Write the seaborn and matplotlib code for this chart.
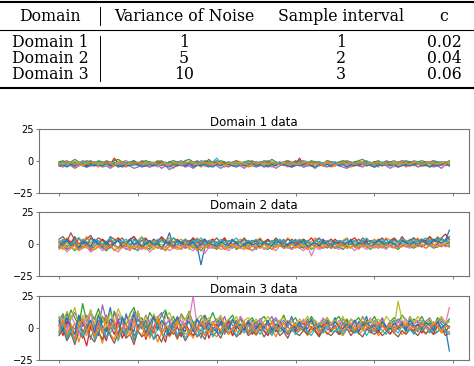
import numpy as np
import pandas as pd
import seaborn as sns
import matplotlib
matplotlib.use("Agg")
import matplotlib.pyplot as plt
from matplotlib.lines import Line2D

# table content
table_header = ["Domain", "Variance of Noise", "Sample interval", "c"]
domain_names = ["Domain 1", "Domain 2", "Domain 3"]
noise_variance = ["1", "5", "10"]
sample_interval = ["1", "2", "3"]
c_values = ["0.02", "0.04", "0.06"]

# traces (12 per domain, 100 steps each)
d1_lines = [
    [-2,-3,-1,-2,-4,-1,-3,-2,0,-2,-3,-1,-2,-4,-2,-1,-3,-2,-2,0,-3,-2,-4,-1,-2,-3,-1,-2,-3,-2,
     -1,-4,-2,-2,-3,0,-2,-1,-3,-2,-2,-4,-1,-3,-2,-1,-2,-4,-2,-3,-1,-2,-3,-1,-4,-2,-2,-1,-3,-2,
     0,-2,-3,-2,-1,-3,-4,-2,-1,-2,-3,-2,-1,-3,-2,-2,-4,-1,-2,-3,-2,-1,-3,-2,-4,-2,-1,-2,-3,-1,
     -2,-3,-2,-1,-2,-4,-2,-3,-1,-2],
    [-3,-4,-2,-3,-5,-3,-2,-4,-3,-3,-5,-2,-3,-4,-3,-2,-4,-5,-3,-2,-4,-3,-3,-5,-2,-4,-3,-2,-3,-6,
     -3,-4,-2,-3,-4,-3,-5,-2,-3,-4,-2,-3,-5,-3,-4,-2,-3,-3,-5,-4,-3,-2,-4,-3,-5,-3,-2,-4,-3,-4,
     -2,-3,-5,-4,-3,-2,-4,-3,-3,-5,-4,-2,-3,-3,-5,-4,-2,-3,-4,-3,-3,-5,-2,-4,-3,-3,-4,-2,-5,-3,
     -4,-3,-2,-3,-5,-4,-3,-2,-4,-3],
    [-1,0,-2,-1,1,-1,-2,0,-1,-2,0,-1,-1,-3,0,1,-1,-2,-1,0,-2,-1,0,-1,-2,0,-1,-3,-1,0,
     -1,-2,0,1,-1,-1,-2,0,-1,-1,-2,0,-1,-2,-1,0,-3,-1,0,-1,-1,-2,0,-1,1,-1,-2,-1,0,-2,
     -1,0,-1,-2,0,-1,-1,-3,0,-1,-2,-1,0,-1,-2,-1,0,1,-1,-2,-1,0,-2,-1,-1,0,-2,-1,0,-1,
     -2,-1,0,-1,-2,0,-1,-1,-2,0],
    [-3,-2,-4,-3,-1,-3,-2,-4,-2,-3,-1,-3,-2,-3,2,-2,-4,-3,-2,-3,-2,-4,-1,-3,-3,-2,-4,-2,-1,-3,
     -3,-2,-4,-3,-2,-1,-3,-4,-2,-3,-3,-1,-2,-4,-3,-2,-3,-2,-4,-1,-3,-2,-3,-4,-2,-3,-1,-3,-2,-4,
     -3,2,-3,-2,-4,-3,-1,-3,-2,-3,-4,-2,-3,-1,-3,-2,-4,-3,-2,-3,-1,-3,-4,-2,-3,-2,-3,-1,-4,-2,
     -3,-3,-2,-4,-1,-3,-2,-3,-2,-3],
    [-4,-5,-3,-4,-6,-4,-3,-5,-4,-4,-3,-5,-4,-6,-4,-3,-5,-4,-4,-6,-5,-3,-4,-5,-4,-3,-6,-4,-7,-5,
     -4,-3,-5,-4,-6,-4,-3,-4,-5,-3,-4,-6,-4,-5,-3,-4,-4,-6,-3,-4,-5,-4,-3,-5,-4,-6,-4,-3,-4,-5,
     -4,-3,-5,-4,-4,-6,-3,-4,-5,-4,-3,-4,-5,-6,-4,-3,-4,-5,-3,-4,-5,-4,-3,-4,-6,-4,-5,-3,-4,-4,
     -3,-5,-4,-4,-3,-5,-4,-6,-3,-4],
    [-1,-2,-3,-1,-2,-2,-1,-3,-2,-1,-3,-2,-1,-2,-2,-4,-1,-2,-3,-1,-2,-1,-3,-2,-2,-1,-2,-3,-1,-2,
     -2,-3,-1,-2,-1,-2,-3,-2,1,-2,-1,-3,-2,-1,-2,-3,-2,-1,-2,-2,-3,-1,-2,-2,-1,-3,-2,-2,-1,-3,
     -2,-1,-2,-3,-2,-1,-2,-2,-3,-1,-2,-2,-1,-3,-2,-1,-2,-3,-2,-2,-1,-2,-3,-1,-2,-2,-3,-1,-2,-1,
     -2,-3,-2,-1,-2,-2,-1,-3,-2,-2],
    [-2,-3,-4,-3,-2,-4,-3,-2,-3,-4,-3,-2,-3,-5,-3,-2,-3,-4,-2,-3,-4,-3,-2,-3,-3,-5,-2,-3,-4,-3,
     -2,-4,-3,-3,-2,-3,-4,-3,-2,-4,-3,-3,-2,-4,-3,-2,-3,-4,-3,-2,-3,-4,-2,-3,-3,-4,-2,-3,-5,-3,
     -2,-3,-4,-3,-2,-3,-3,-4,-2,-3,-4,-3,-2,-3,-4,-2,-3,-3,-4,-2,-3,-4,-3,-2,-3,-5,-3,-2,-3,-4,
     -3,-2,-4,-3,-3,-2,-3,-4,-2,-3],
    [-2,-1,0,-2,-1,-2,0,-1,-3,-1,-1,-2,0,-1,-2,-1,-1,0,-2,-1,-2,0,-1,-1,-3,-1,0,-2,-1,-2,
     -1,0,-2,-1,-1,-2,0,-1,-2,-1,0,-1,-2,-1,-2,0,-1,-2,-1,0,-2,-1,-1,0,-2,-1,-3,-1,0,-1,
     -2,-1,0,-1,-2,-1,-1,-2,0,-1,-1,-2,-1,0,-1,-2,-1,-1,0,-2,-1,-1,-2,0,-1,-2,-1,0,-1,-2,
     0,-1,-2,-1,-1,0,-2,-1,-1,-2],
    [-3,-2,-2,-4,-3,-1,-3,-2,-4,-2,-2,-3,-4,-2,-3,-1,-2,-3,-3,-4,-2,-3,-1,-3,-2,-4,-3,-2,-3,-2,
     -4,-2,-3,-2,-1,-3,-3,-4,-2,-2,-3,-2,-4,-3,-2,-3,-1,-2,-3,-4,-2,-3,-3,-2,-4,-2,-3,-1,-3,-2,
     -3,-4,-2,-3,-2,-3,-4,-2,-1,-3,-2,-3,-3,-4,-2,-3,-2,-1,-3,-3,-4,-2,-3,-2,-3,-1,-3,-4,-2,-3,
     -2,-3,-4,-2,-3,-2,-3,-1,-3,-2],
    [-2,-1,-3,-2,-2,-3,-1,-2,-4,-2,-1,-2,-3,-2,-1,-3,-2,-2,-1,-3,-2,-3,-2,-1,-2,-4,-2,-1,-3,-2,
     -2,-1,-3,-2,-2,-1,-3,-2,-2,-1,2,-2,-3,-1,-2,-2,-3,-1,-2,-3,-2,-1,-2,-3,-2,-2,-1,-3,-2,-2,
     -3,-1,-2,-2,-3,-2,-1,-2,-3,-2,-1,-3,-2,-2,-1,-2,-3,-2,-2,-1,-3,-2,-1,-2,-3,-2,-2,-1,-3,-2,
     -2,-1,-3,-2,-2,-3,-1,-2,-2,-3],
    [-4,-3,-5,-3,-4,-2,-4,-5,-3,-4,-3,-4,-2,-4,-3,-5,-4,-3,-4,-2,-3,-5,-4,-3,-4,-3,-2,-4,-5,-3,
     -4,-3,-4,-2,-5,-3,-4,-3,-4,-5,-3,-4,-2,-3,-4,-5,-3,-4,-3,-2,-4,-3,-5,-4,-3,-4,-2,-3,-4,-5,
     -3,-4,-3,-2,-4,-5,-3,-4,-3,-4,-2,-4,-3,-5,-3,-4,-3,-2,-4,-3,-5,-3,-4,-2,-4,-3,-5,-4,-3,-4,
     -3,-2,-4,-3,-5,-3,-4,-3,-2,-4],
    [-2,-3,-2,-1,-3,-2,-4,-2,-1,-2,-3,-1,-2,-2,-4,-2,-1,-3,-2,-2,-1,-2,-3,-2,-1,-3,-2,-2,-4,-1,
     -2,-3,-2,-1,-2,-3,-1,-2,-2,-3,-2,-1,-3,-2,-2,-1,-3,-2,-4,-2,-1,-2,-2,-3,-1,-2,-3,-2,-2,-1,
     -3,-2,-1,-2,-3,-2,-2,-4,-1,-2,-3,-2,-1,-2,-2,-3,-1,-2,-3,-2,-2,-1,-3,-2,-2,-3,-1,-2,-2,-3,
     -1,-2,-3,-2,-1,-2,-3,-2,-2,-1],
]

d2_lines = [
    [-1,3,-2,1,4,-3,0,2,-4,1,3,-2,0,5,-1,-3,2,0,-2,4,1,-3,2,-1,0,3,-4,1,9,-2,
     0,2,-3,1,4,-1,-16,-2,1,3,-2,0,4,-1,-3,2,1,-2,3,0,-4,1,2,-1,3,-2,0,4,-3,1,
     2,-1,-3,3,0,-2,2,4,-1,0,-3,2,1,-2,4,0,-1,3,-2,1,0,-3,2,4,-1,1,-2,3,0,-1,
     2,4,-2,1,3,-1,0,5,2,1],
    [3,1,5,2,0,4,2,6,1,3,0,4,2,-1,3,5,1,2,4,0,3,6,2,1,4,0,3,2,5,1,
     2,4,0,3,1,5,2,-1,3,4,1,2,5,0,3,2,4,1,-1,3,2,5,1,3,0,4,2,1,5,2,
     0,3,4,1,2,5,0,3,1,4,2,0,3,5,1,2,4,0,3,2,4,1,2,5,3,0,2,4,1,3,
     2,5,1,3,4,2,6,3,2,4],
    [-3,-1,-4,-2,-5,-1,-3,0,-4,-2,-1,-3,-5,-2,0,-3,-1,-4,-2,-3,-5,-1,-2,-4,0,-3,-2,-5,-1,-3,
     -2,-4,-1,0,-3,-2,-5,-1,-3,-2,-4,-1,-2,-3,0,-4,-2,-1,-3,-5,-2,-1,-3,-4,-1,-2,0,-3,-2,-4,
     -1,-3,-2,0,-4,-2,-1,-3,-2,-1,-3,-2,-4,-1,0,-2,-3,-1,-2,-4,-1,-2,0,-3,-1,-2,-4,-1,0,-2,
     -3,-1,-2,0,-1,-3,-2,0,-1,-2],
    [2,-1,4,1,6,0,3,-2,5,2,0,4,1,3,-1,5,2,0,3,6,1,-1,4,2,0,3,5,1,2,-2,
     4,1,3,0,5,2,-1,3,1,4,0,2,5,-1,3,1,2,4,0,1,3,-1,2,4,1,0,3,2,-1,4,
     1,3,0,2,5,1,-1,3,2,0,4,1,2,-1,3,5,1,0,4,2,1,3,5,0,2,4,1,6,2,3,
     5,1,4,2,6,3,1,5,8,4],
    [-2,0,-4,-1,1,-3,-2,0,-5,-1,1,-2,-4,0,-1,-3,1,-2,0,-4,-1,-3,1,-2,-1,0,-4,-2,1,-3,
     0,-1,-3,-2,1,-5,-1,0,-2,-3,1,-1,-4,0,-2,-1,-3,1,-2,0,-3,-1,0,-2,-4,1,-1,-2,0,-3,
     -1,1,-2,-3,0,-1,-2,1,-3,-1,0,-2,1,-1,-3,0,-2,-1,1,-2,-1,0,-3,1,-1,-2,0,1,-2,0,
     -1,1,-2,0,2,-1,0,-2,1,0],
    [4,6,2,9,3,5,1,4,7,2,5,3,0,6,4,2,5,1,4,6,2,3,5,0,4,2,6,3,1,5,
     3,0,4,2,5,1,3,4,0,2,5,1,3,2,4,0,2,5,1,3,2,4,0,3,1,5,2,0,4,2,
     3,1,4,2,0,3,5,1,2,4,0,3,2,4,1,3,0,5,2,3,1,4,2,0,3,5,2,4,1,3,
     5,2,4,3,6,2,5,4,3,6],
    [-4,-2,-6,-3,-1,-5,-3,-2,-6,-4,-2,-5,-3,-1,-4,-6,-2,-3,-5,-1,-3,-4,-2,-6,-3,-1,-4,-2,-5,-3,
     -2,-4,-1,-3,-5,-2,-4,-7,-2,-3,-1,-4,-3,-5,-2,-1,-3,-4,-2,-5,-3,-1,-4,-2,-3,-5,-1,-3,-2,-4,
     -2,-3,-5,-1,-9,-2,-4,-3,-1,-3,-2,-4,-1,-3,-2,-5,-1,-2,-4,-2,-1,-3,-2,-4,0,-2,-3,-1,-2,-3,
     -1,-2,0,-3,-1,-2,-1,0,-2,-1],
    [1,-1,3,0,2,-2,4,1,-1,3,2,0,-2,3,1,4,-1,2,0,1,-1,3,1,-2,2,0,4,1,-1,2,
     3,0,1,-1,2,4,0,1,3,-1,2,1,-2,3,0,2,1,4,-1,2,0,3,1,-1,2,0,3,1,-2,2,
     4,0,1,2,-1,3,1,0,2,-1,1,3,0,2,1,-1,4,2,0,1,3,-1,2,1,0,3,2,-1,1,4,
     0,2,3,1,-1,2,4,1,3,2],
    [0,-3,1,-2,-4,0,-1,-3,2,-2,-1,1,-3,-2,0,-4,-1,2,-2,-1,-3,0,-2,1,-4,-1,0,-3,-2,1,
     -1,-2,0,-4,-1,1,-3,-2,0,-1,-2,1,-3,0,-1,-2,1,-4,0,-2,-1,0,-3,-1,1,-2,0,-1,-3,0,
     -2,1,-1,0,-3,-2,1,-1,0,-2,1,-1,-2,0,-3,1,-1,0,-2,1,0,-2,1,-1,0,2,-1,0,1,-1,
     0,2,-1,1,0,-1,2,0,1,3],
    [1,4,2,0,3,5,2,1,4,2,3,0,2,5,1,3,2,4,0,3,2,5,1,3,0,4,2,1,3,5,
     1,2,4,0,3,2,5,1,2,3,0,4,1,3,2,5,1,0,3,2,4,1,2,0,3,1,4,2,0,3,
     2,4,1,3,0,2,4,1,3,2,0,3,2,4,1,3,0,2,5,1,3,2,4,1,3,0,2,4,3,1,
     4,2,3,5,2,4,3,5,2,4],
    [-2,1,3,-1,0,-3,2,1,-2,4,0,-1,2,-3,1,3,-2,0,4,-1,2,-2,0,3,-1,1,-3,2,0,-2,
     3,1,-1,0,2,-3,1,4,-1,0,-2,2,0,-1,3,1,-2,0,2,-1,1,-3,2,0,-1,3,1,-2,0,2,
     -1,1,3,-2,0,1,-1,2,0,-3,2,0,-1,1,3,-2,1,0,2,-1,0,3,1,-1,2,0,-2,3,1,0,
     2,-1,3,1,0,4,2,1,3,11],
    [-1,-4,-2,-3,0,-5,-2,-1,-3,-4,-2,0,-3,-1,-5,-2,-3,0,-4,-1,-3,-2,-4,0,-1,-3,-2,-5,-1,-2,
     -4,-3,0,-2,-1,-4,-2,-3,0,-2,-3,-1,-4,-2,0,-3,-1,-2,-4,-1,-2,-3,0,-1,-4,-2,-1,-3,-2,0,
     -3,-1,-2,-4,-1,0,-3,-2,-1,-3,-2,0,-1,-3,-2,-1,-4,0,-2,-1,-3,-1,-2,0,-2,-3,-1,-2,0,-1,
     -2,0,-1,-3,-1,0,-2,-1,0,-1],
]

d3_lines = [
    [8,-3,12,2,-5,10,4,-2,14,1,-6,9,3,16,-1,7,-4,11,2,-3,13,0,6,-5,9,3,-2,12,5,-4,
     8,1,-3,11,4,-1,7,10,-2,5,1,8,-3,6,2,-1,9,3,-4,6,0,7,2,-3,5,8,-1,4,1,9,
     -2,5,3,-1,7,0,4,-3,6,2,8,-1,3,6,0,-3,5,2,9,-1,4,1,7,-2,3,6,0,5,-1,8,
     2,-3,6,1,4,-1,7,3,0,-18],
    [-5,2,-9,-3,4,-11,-1,-6,3,-8,-2,-12,0,-5,-9,2,-4,-7,1,-10,-3,-6,2,-8,-1,-11,-4,0,-7,-2,
     -9,1,-5,-3,-8,0,-2,-6,3,-4,-7,-1,-3,2,-6,-2,-5,0,-4,-1,-6,1,-3,-5,-1,-7,0,-2,-4,1,
     -5,-2,0,-6,-3,1,-4,-1,-5,-2,0,-4,-6,-1,-3,2,-5,-2,0,-4,-1,-6,-3,1,-4,-2,0,-5,-3,-1,
     -4,0,-2,-5,-1,-3,1,-4,-2,-3],
    [6,11,3,14,8,2,19,5,12,7,15,4,10,1,13,6,9,2,11,16,5,8,0,12,7,3,10,14,4,9,
     2,11,6,13,3,7,1,9,5,12,4,8,0,6,10,3,7,1,5,8,2,6,9,3,0,7,4,10,2,5,
     8,1,6,3,9,4,0,7,5,2,6,9,3,7,1,5,8,2,6,4,9,3,7,0,5,8,4,10,6,2,
     7,4,9,3,6,1,8,5,3,7],
    [2,-6,5,-2,-9,3,-4,-14,1,-7,4,-3,-10,2,-5,6,-8,-1,3,-6,-2,5,-9,0,-4,7,-3,-11,2,-5,
     1,-7,4,-2,-6,0,-3,5,-8,-1,3,-4,-1,5,-6,2,-3,0,4,-5,-1,3,-2,-6,1,-3,4,-1,-5,2,
     -3,0,5,-4,1,-2,-6,3,0,-3,2,-5,0,4,-2,-4,1,-1,5,-3,0,-4,3,-2,-5,1,-1,4,-3,0,
     -2,3,-4,1,-1,-5,2,0,-3,1],
    [3,9,0,7,12,5,1,10,4,8,-1,18,6,2,11,5,-2,9,3,13,7,1,10,4,-1,8,12,3,6,0,
     9,5,2,11,-1,6,3,8,0,4,7,2,9,-1,5,3,8,1,6,-2,4,7,1,5,9,0,3,6,2,8,
     1,5,-1,7,3,6,0,4,8,2,5,1,7,3,-1,6,2,9,4,1,6,3,8,0,5,2,7,4,1,9,
     3,6,0,5,8,2,4,7,3,5],
    [-6,-1,-10,-4,-13,-2,-8,0,-7,-11,-3,-9,1,-6,-12,-4,-1,-8,-5,-13,-2,-7,-4,0,-9,-5,-11,-2,-6,-1,
     -8,-3,-10,-5,-1,-7,-4,-9,0,-6,-3,-8,-1,-5,-2,-7,-4,0,-6,-3,-5,-1,-7,-2,-4,0,-6,-3,-8,-1,
     -4,-6,-2,-5,0,-3,-7,-1,-4,-6,-2,-5,-3,0,-6,-2,-4,-7,-1,-3,-5,-2,-6,-3,0,-4,-7,-2,-5,-1,
     -3,-6,-1,-4,-2,-5,-3,0,-6,-4],
    [1,7,-3,10,3,-6,8,2,12,-2,5,-4,9,1,-1,11,4,-5,7,0,13,2,-3,6,9,-2,4,1,8,-4,
     3,10,0,6,25,2,-3,7,1,5,-2,8,3,-1,6,0,9,4,-3,5,2,7,-1,4,0,8,3,-2,6,1,
     4,-1,7,2,5,0,3,8,-2,4,1,6,3,-1,7,2,0,5,3,8,-1,4,6,1,3,-2,5,2,7,0,
     3,6,1,4,-1,5,2,8,3,16],
    [-3,5,-7,2,-1,8,-4,3,-9,1,6,-2,-8,4,0,-5,7,-3,2,-10,3,-1,5,-6,1,8,-4,0,-2,6,
     -7,3,1,-4,5,-1,-8,2,6,-3,0,4,-5,2,-2,6,-1,3,-4,1,5,-2,0,3,-4,2,6,-1,1,-3,
     4,0,-2,5,-1,3,-3,1,6,-2,2,-4,4,0,3,-1,-3,5,1,-2,3,0,5,-2,2,-4,1,4,-1,3,
     0,-2,4,1,-3,2,5,-1,2,0],
    [9,4,13,7,16,2,10,6,14,3,11,8,1,12,5,15,7,3,10,6,13,4,9,0,11,6,2,8,12,5,
     3,9,6,12,1,7,10,4,8,2,6,10,3,7,4,9,1,6,8,3,7,2,5,9,4,1,6,8,3,5,
     2,7,4,9,3,6,1,5,8,4,6,3,9,2,7,5,1,8,4,6,3,7,2,9,5,1,21,6,3,8,
     4,9,5,2,7,3,6,9,4,5],
    [-4,3,-8,-1,-11,2,-6,-3,5,-9,-2,1,-7,-4,3,-10,-1,-5,2,-8,-3,4,-6,-1,-9,1,-4,-7,3,-2,
     -5,0,-8,-3,2,-6,-1,-4,1,-7,-2,-5,1,-3,-1,-6,0,-4,2,-3,-1,-5,0,-2,-6,1,-3,-1,-4,0,
     -5,-2,1,-3,-6,0,-1,-4,2,-2,-3,0,-5,-1,2,-4,-2,0,-6,-1,-3,1,-2,-5,0,-1,-4,2,-3,-1,
     -5,0,-2,1,-4,-1,-3,0,-2,-5],
    [5,-2,8,0,-5,9,3,-1,6,-4,10,1,-3,7,4,-6,8,2,-2,11,0,5,-4,3,9,-1,6,2,-5,4,
     8,-2,1,5,-3,7,2,-1,4,0,-3,5,2,-1,7,0,3,-2,5,1,-1,4,0,6,-2,3,1,-3,5,2,
     0,4,-2,3,6,-1,2,0,4,-2,5,1,-1,3,0,6,-3,2,4,0,2,-2,5,1,-1,4,0,3,-2,6,
     1,3,-1,4,2,-2,5,0,3,1],
    [-1,6,-5,3,-9,1,7,-3,4,-7,2,-4,8,-1,5,-8,0,3,-6,6,-2,4,-7,1,-3,9,-5,2,0,-4,
     6,-1,3,-6,2,-3,5,0,-4,3,1,-2,4,-5,0,3,-1,5,-3,2,-4,1,3,-2,5,-1,0,4,-3,1,
     3,-2,0,4,-1,2,-4,1,3,-1,0,3,-3,1,4,-2,2,-1,3,0,-2,4,1,-1,3,-3,2,0,4,-1,
     1,-2,3,0,-1,4,1,-3,2,0],
]

domains = [("Domain 1 data", d1_lines), ("Domain 2 data", d2_lines), ("Domain 3 data", d3_lines)]

W, H = 474, 366
fig = plt.figure(figsize=(W / 100, H / 100), dpi=100)

def fx(x):
    return x / W

def fy(y):
    return 1 - y / H

# ---- table ----
serif = "DejaVu Serif"
tsize = 11.3
col_x = [50, 184, 341, 444]
for cx, txt in zip(col_x, table_header):
    fig.text(fx(cx), fy(16.5), txt, ha="center", va="center", family=serif, fontsize=tsize)
rows = list(zip(domain_names, noise_variance, sample_interval, c_values))
row_y = [42.5, 58.5, 74.5]
for ry, row in zip(row_y, rows):
    for cx, txt in zip(col_x, row):
        fig.text(fx(cx), fy(ry), txt, ha="center", va="center", family=serif, fontsize=tsize)

fig.add_artist(Line2D([0, 1], [fy(1.5), fy(1.5)], color="black", lw=1.5, transform=fig.transFigure))
fig.add_artist(Line2D([0, 1], [fy(30), fy(30)], color="black", lw=0.8, transform=fig.transFigure))
fig.add_artist(Line2D([0, 1], [fy(87.5), fy(87.5)], color="black", lw=1.5, transform=fig.transFigure))
fig.add_artist(Line2D([fx(100), fx(100)], [fy(7), fy(25)], color="black", lw=0.7, transform=fig.transFigure))
fig.add_artist(Line2D([fx(100), fx(100)], [fy(36), fy(81)], color="black", lw=0.7, transform=fig.transFigure))

# ---- line plots ----
bottoms = [0.4735, 0.245, 0.0165]
for (title, lines), b in zip(domains, bottoms):
    ax = fig.add_axes([0.083, b, 0.9066, 0.175])
    recs = []
    for i, ln in enumerate(lines):
        for step, v in enumerate(ln):
            recs.append((i, step, v))
    df = pd.DataFrame(recs, columns=["trace", "step", "value"])
    sns.lineplot(data=df, x="step", y="value", hue="trace",
                 palette=sns.color_palette("tab10", len(lines)),
                 legend=False, estimator=None, lw=0.9, ax=ax)
    ax.set_ylim(-25, 25)
    ax.set_xlim(-5, 104)
    ax.set_yticks([-25, 0, 25])
    ax.set_xticks(np.arange(0, 101, 20))
    ax.set_xticklabels([])
    ax.set_xlabel("")
    ax.set_ylabel("")
    ax.tick_params(labelsize=7, length=2.5, width=0.6, color="0.4", pad=1.5)
    for s in ax.spines.values():
        s.set_color("0.45")
        s.set_linewidth(0.8)
    ax.set_title(title, fontsize=8.5, pad=2)

fig.savefig("out.png", dpi=100)
